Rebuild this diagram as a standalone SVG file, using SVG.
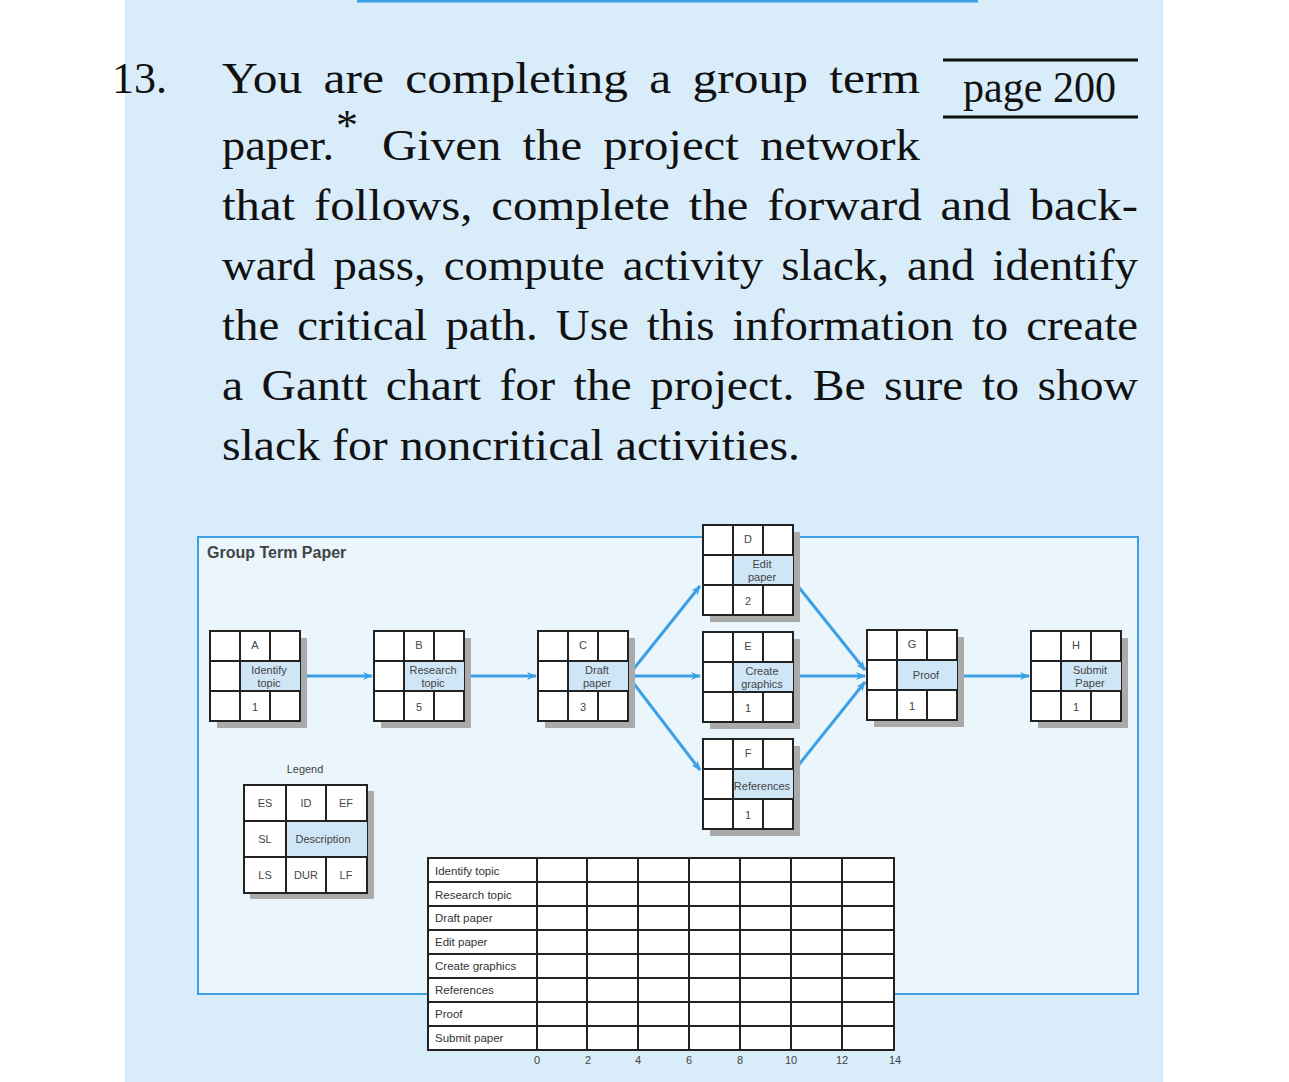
<svg xmlns="http://www.w3.org/2000/svg" width="1289" height="1082" viewBox="0 0 1289 1082">
<defs>
<style>
.q{font-family:"Liberation Serif",serif;font-size:44px;fill:#111}
.t{font-family:"Liberation Sans",Arial,sans-serif;font-size:11px;fill:#444;text-anchor:middle}
.g{font-family:"Liberation Sans",Arial,sans-serif;font-size:11.5px;fill:#333}
.c{fill:#fff;stroke:#222;stroke-width:2}
.d{fill:#cfe6f7}
.sh{fill:#aaa}
.ar{stroke:#3ea0e4;stroke-width:3;fill:none;marker-end:url(#ah)}
</style>
<marker id="ah" markerWidth="10" markerHeight="8" refX="9" refY="4" orient="auto" markerUnits="userSpaceOnUse"><path d="M0,0 L10,4 L0,8 L3,4 Z" fill="#3ea0e4"/></marker>
<g id="box">
<rect class="sh" x="7" y="7" width="90" height="90"/>
<rect class="c" x="0" y="0" width="90" height="90"/>
<rect class="d" x="30" y="30" width="60" height="30"/>
<path d="M0,30H90M0,60H90M30,0V30M60,0V30M30,30V90M60,60V90" stroke="#222" stroke-width="2"/>
</g>
</defs>
<rect width="1289" height="1082" fill="#fff"/>
<rect x="125" y="0" width="1038" height="1082" fill="#d8ecf9"/>
<line x1="357" y1="1" x2="978" y2="1" stroke="#3ea0e4" stroke-width="3"/>
<g id="question">
<text class="q" x="112" y="93">13.</text>
<text class="q" x="222" y="93" textLength="698" lengthAdjust="spacingAndGlyphs" word-spacing="8">You are completing a group term</text>
<text class="q" x="222" y="160" textLength="112" lengthAdjust="spacingAndGlyphs">paper.</text>
<text class="q" x="336" y="140" font-size="24">*</text>
<text class="q" x="382" y="160" textLength="538" lengthAdjust="spacingAndGlyphs" word-spacing="8">Given the project network</text>
<text class="q" x="222" y="220" textLength="916" lengthAdjust="spacingAndGlyphs" word-spacing="6">that follows, complete the forward and back-</text>
<text class="q" x="222" y="280" textLength="916" lengthAdjust="spacingAndGlyphs" word-spacing="6">ward pass, compute activity slack, and identify</text>
<text class="q" x="222" y="340" textLength="916" lengthAdjust="spacingAndGlyphs" word-spacing="6">the critical path. Use this information to create</text>
<text class="q" x="222" y="400" textLength="916" lengthAdjust="spacingAndGlyphs" word-spacing="6">a Gantt chart for the project. Be sure to show</text>
<text class="q" x="222" y="460" textLength="578" lengthAdjust="spacingAndGlyphs">slack for noncritical activities.</text>
<line x1="943" y1="60" x2="1138" y2="60" stroke="#111" stroke-width="3"/>
<line x1="943" y1="117" x2="1138" y2="117" stroke="#111" stroke-width="3"/>
<text class="q" x="963" y="102" textLength="153" lengthAdjust="spacingAndGlyphs">page 200</text>
</g>
<rect x="198" y="537" width="940" height="457" fill="#eaf5fc" stroke="#3ea0e4" stroke-width="2"/>
<text x="207" y="558" font-family="Liberation Sans,Arial,sans-serif" font-size="16" font-weight="bold" fill="#444">Group Term Paper</text>
<g id="connectors">
<line class="ar" x1="300" y1="676" x2="372" y2="676"/>
<line class="ar" x1="464" y1="676" x2="536" y2="676"/>
<line class="ar" x1="628" y1="676" x2="700" y2="586"/>
<line class="ar" x1="628" y1="676" x2="700" y2="676"/>
<line class="ar" x1="628" y1="676" x2="700" y2="770"/>
<line class="ar" x1="793" y1="580" x2="865" y2="670"/>
<line class="ar" x1="793" y1="676" x2="865" y2="676"/>
<line class="ar" x1="793" y1="772" x2="865" y2="682"/>
<line class="ar" x1="957" y1="676" x2="1029" y2="676"/>
</g>
<g id="nodeA"><use href="#box" x="210" y="631"/><text class="t" x="255" y="649">A</text><text class="t" x="269" y="674">Identify</text><text class="t" x="269" y="687">topic</text><text class="t" x="255" y="711">1</text></g>
<g id="nodeB"><use href="#box" x="374" y="631"/><text class="t" x="419" y="649">B</text><text class="t" x="433" y="674">Research</text><text class="t" x="433" y="687">topic</text><text class="t" x="419" y="711">5</text></g>
<g id="nodeC"><use href="#box" x="538" y="631"/><text class="t" x="583" y="649">C</text><text class="t" x="597" y="674">Draft</text><text class="t" x="597" y="687">paper</text><text class="t" x="583" y="711">3</text></g>
<g id="nodeD"><use href="#box" x="703" y="525"/><text class="t" x="748" y="543">D</text><text class="t" x="762" y="568">Edit</text><text class="t" x="762" y="581">paper</text><text class="t" x="748" y="605">2</text></g>
<g id="nodeE"><use href="#box" x="703" y="632"/><text class="t" x="748" y="650">E</text><text class="t" x="762" y="675">Create</text><text class="t" x="762" y="688">graphics</text><text class="t" x="748" y="712">1</text></g>
<g id="nodeF"><use href="#box" x="703" y="739"/><text class="t" x="748" y="757">F</text><text class="t" x="762" y="790" font-size="10">References</text><text class="t" x="748" y="819">1</text></g>
<g id="nodeG"><use href="#box" x="867" y="630"/><text class="t" x="912" y="648">G</text><text class="t" x="926" y="679">Proof</text><text class="t" x="912" y="710">1</text></g>
<g id="nodeH"><use href="#box" x="1031" y="631"/><text class="t" x="1076" y="649">H</text><text class="t" x="1090" y="674">Submit</text><text class="t" x="1090" y="687">Paper</text><text class="t" x="1076" y="711">1</text></g>
<g id="legend">
<text class="t" x="305" y="773">Legend</text>
<rect class="sh" x="250" y="791" width="124" height="108"/>
<rect class="c" x="244" y="785" width="123" height="108"/>
<rect class="d" x="286" y="821" width="81" height="36"/>
<path d="M244,821H367M244,857H367M286,785V893M326,785V821M326,857V893" stroke="#222" stroke-width="2"/>
<text class="t" x="265" y="807">ES</text><text class="t" x="306" y="807">ID</text><text class="t" x="346" y="807">EF</text>
<text class="t" x="265" y="843">SL</text><text class="t" x="323" y="843">Description</text>
<text class="t" x="265" y="879">LS</text><text class="t" x="306" y="879">DUR</text><text class="t" x="346" y="879">LF</text>
</g>
<g id="gantt">
<rect x="428" y="858" width="466" height="192" fill="#fff" stroke="#222" stroke-width="2"/>
<path d="M428,882H894M428,906H894M428,930H894M428,954H894M428,978H894M428,1002H894M428,1026H894M537,858V1050M587,858V1050M638,858V1050M689,858V1050M740,858V1050M791,858V1050M842,858V1050" stroke="#222" stroke-width="2"/>
<text class="g" x="435" y="875">Identify topic</text>
<text class="g" x="435" y="899">Research topic</text>
<text class="g" x="435" y="922">Draft paper</text>
<text class="g" x="435" y="946">Edit paper</text>
<text class="g" x="435" y="970">Create graphics</text>
<text class="g" x="435" y="994">References</text>
<text class="g" x="435" y="1018">Proof</text>
<text class="g" x="435" y="1042">Submit paper</text>
<text class="t" x="537" y="1064">0</text><text class="t" x="588" y="1064">2</text><text class="t" x="638" y="1064">4</text><text class="t" x="689" y="1064">6</text><text class="t" x="740" y="1064">8</text><text class="t" x="791" y="1064">10</text><text class="t" x="842" y="1064">12</text><text class="t" x="895" y="1064">14</text>
</g>
</svg>
